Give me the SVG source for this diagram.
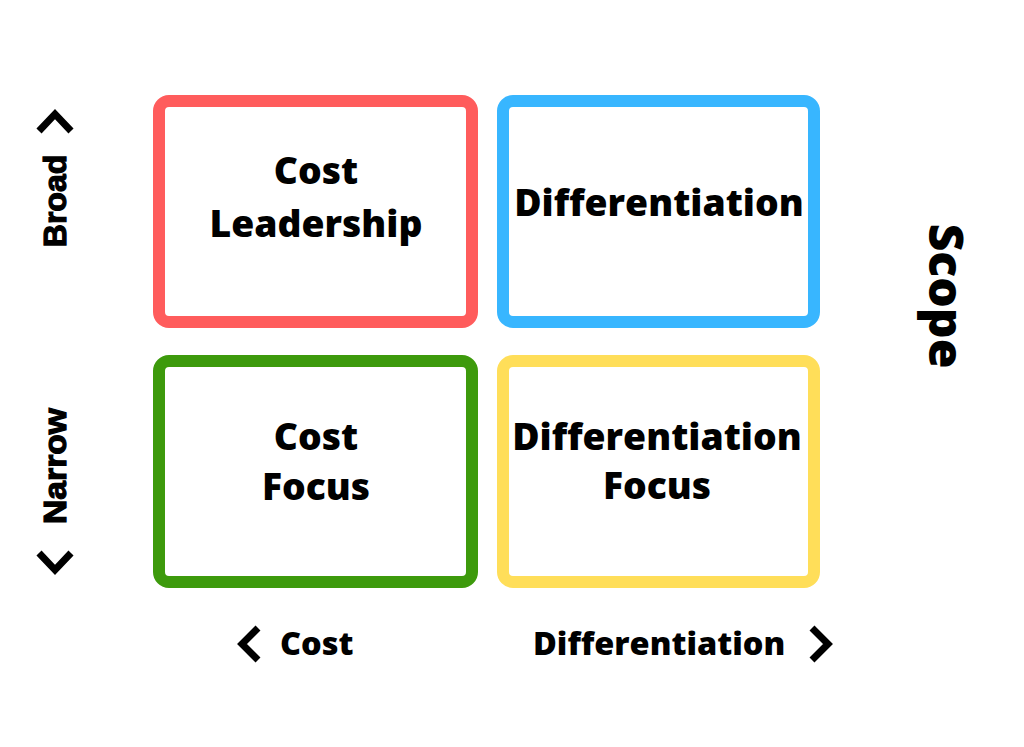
<svg xmlns="http://www.w3.org/2000/svg" width="1024" height="747" viewBox="0 0 1024 747">
<style>
.box{fill:#FFFFFF;stroke-width:12}
.t{font-family:"Open Sans","Liberation Sans",sans-serif;font-weight:800;fill:#000;text-anchor:middle}
.big{font-size:37.3px}
.lab{font-size:32.5px}
.side{font-family:"Liberation Sans",Arial,sans-serif;font-weight:700;font-size:32px;fill:#000;stroke:#000;stroke-width:1.2;text-anchor:middle}
.chev{fill:none;stroke:#000;stroke-width:7;stroke-linecap:butt;stroke-linejoin:miter}
</style>
<rect width="1024" height="747" fill="#FFFFFF"/>
<g id="cost-leadership">
<rect class="box" x="159" y="101" width="313" height="221" rx="10" stroke="#FF5C5C"/>
<text class="t big" x="316" y="184">Cost</text>
<text class="t big" x="316" y="237">Leadership</text>
</g>
<g id="differentiation">
<rect class="box" x="503" y="101" width="311" height="221" rx="10" stroke="#38B6FF"/>
<text class="t big" x="659" y="216">Differentiation</text>
</g>
<g id="cost-focus">
<rect class="box" x="159" y="361" width="313" height="221" rx="10" stroke="#3D9A0C"/>
<text class="t big" x="316" y="450">Cost</text>
<text class="t big" x="316" y="500">Focus</text>
</g>
<g id="differentiation-focus">
<rect class="box" x="503" y="361" width="311" height="221" rx="10" stroke="#FFDE59"/>
<text class="t big" x="657" y="450">Differentiation</text>
<text class="t big" x="657" y="499">Focus</text>
</g>
<g id="axes">
<polyline class="chev" points="39,131 55,114 71,131"/>
<text class="side" transform="translate(66,201) rotate(-90)">Broad</text>
<text class="side" transform="translate(66,466) rotate(-90)" textLength="116" lengthAdjust="spacingAndGlyphs">Narrow</text>
<polyline class="chev" points="39,553 55,570 71,553"/>
<polyline class="chev" points="258,628 242,644 258,660"/>
<text class="t lab" x="280" y="655" style="text-anchor:start">Cost</text>
<text class="t lab" x="533" y="655" style="text-anchor:start">Differentiation</text>
<polyline class="chev" points="812,628 828,644 812,660"/>
<text class="t" style="font-size:48px" transform="translate(929,296) rotate(90)">Scope</text>
</g>
</svg>
